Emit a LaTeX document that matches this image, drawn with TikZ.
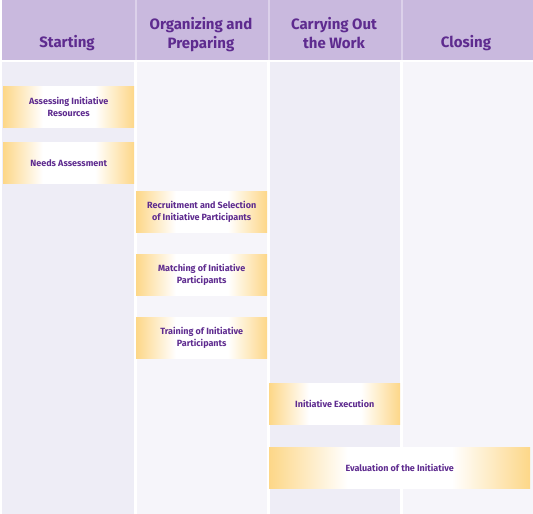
\documentclass[tikz,border=0pt]{standalone}
\usepackage{fontspec}
\setmainfont{Fira Sans}
\usepackage{xcolor}
\definecolor{entete}{HTML}{C9B9DE}
\definecolor{sepentete}{HTML}{DCD1EA}
\definecolor{violet}{HTML}{5E2B8F}
\definecolor{colsombre}{HTML}{EEEDF6}
\definecolor{colclair}{HTML}{F6F5FA}
\definecolor{orangepale}{HTML}{FDD788}
\pgfdeclarehorizontalshading{lueur}{100bp}{color(0bp)=(orangepale); color(25bp)=(orangepale);
  color(40bp)=(white); color(60bp)=(white); color(75bp)=(orangepale); color(100bp)=(orangepale)}

\tikzset{
  titre/.style={font=\fontsize{15}{19}\selectfont\bfseries, text=violet, align=center, inner sep=0pt},
  etape/.style={anchor=north west, inner sep=0pt, minimum height=41pt, minimum width=131pt,
    shading=lueur, font=\fontsize{9}{12}\selectfont\bfseries, text=violet, align=center},
}

\begin{document}
\begin{tikzpicture}[x=1pt, y=-1pt]
    % fond
    \fill[white] (0,0) rectangle (533,514);
    \useasboundingbox (0,0) rectangle (533,514);
    % bandeau du haut
    \fill[entete] (2,0) rectangle (533,60);
    \foreach \xs in {134.5, 267.5, 400.5}
        \fill[sepentete] (\xs,0) rectangle ++(2.5,60);
    % colonnes
    \fill[colsombre] (2,62) rectangle (134,514);
    \fill[colclair] (136.5,62) rectangle (267,514);
    \fill[colsombre] (269.5,62) rectangle (400,514);
    \fill[colclair] (402.5,62) rectangle (533,514);
    % titres
    \node[titre, anchor=base] (debut) at (67,47) {Starting};
    \node[titre, anchor=base] (organiser) at (201,48) {Organizing and\\Preparing};
    \node[titre, anchor=base] (travail) at (334,48) {Carrying Out\\the Work};
    \node[titre, anchor=base] (cloture) at (466,47) {Closing};
    % etapes
    \node[etape] (ressources) at (3,86) {Assessing Initiative\\Resources};
    \node[etape] (besoins) at (3,142) {Needs Assessment};
    \node[etape] (recrutement) at (136,191) {Recruitment and Selection\\of Initiative Participants};
    \node[etape] (jumelage) at (136,254) {Matching of Initiative\\Participants};
    \node[etape] (formation) at (136,317) {Training of Initiative\\Participants};
    \node[etape] (execution) at (269,383) {Initiative Execution};
    \node[etape, minimum width=261pt] (evaluation) at (269,447) {Evaluation of the Initiative};
\end{tikzpicture}
\end{document}
